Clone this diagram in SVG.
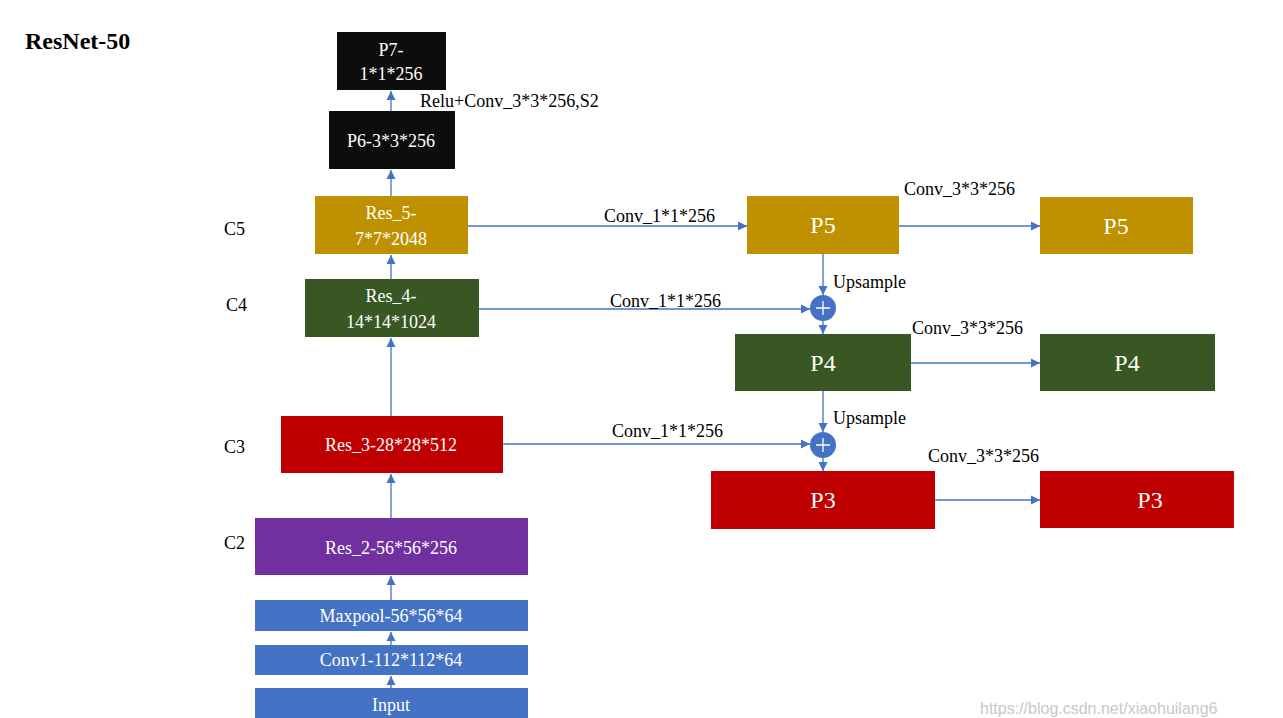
<svg xmlns="http://www.w3.org/2000/svg" width="1283" height="718" viewBox="0 0 1283 718">
<defs>
<marker id="a" viewBox="0 0 10 10" refX="10" refY="5" markerWidth="7" markerHeight="7" orient="auto"><path d="M0,0L10,5L0,10z" fill="#4472C4"/></marker>
<style>
text{font-family:"Liberation Serif",serif}
.w{fill:#fff;font-size:18px;text-anchor:middle}
.p{fill:#fff;font-size:24px;text-anchor:middle}
.l{fill:#000;font-size:18px}
.c{stroke:#4472C4;stroke-width:1.3;fill:none;marker-end:url(#a)}
</style>
</defs>
<rect width="1283" height="718" fill="#fff"/>
<text x="25" y="49" style="font-size:24px;font-weight:bold">ResNet-50</text>
<text class="l" x="224" y="235">C5</text>
<text class="l" x="226" y="311">C4</text>
<text class="l" x="224" y="453">C3</text>
<text class="l" x="224" y="549">C2</text>
<g id="connectors">
<path class="c" d="M391,688V676"/>
<path class="c" d="M391,645V632"/>
<path class="c" d="M391,600V576"/>
<path class="c" d="M391,518V474"/>
<path class="c" d="M391,416V338"/>
<path class="c" d="M391,279V255"/>
<path class="c" d="M391,196V170"/>
<path class="c" d="M391,111V91"/>
<path class="c" d="M468,226H747"/>
<path class="c" d="M479,309H810"/>
<path class="c" d="M503,444H810"/>
<path class="c" d="M899,226H1040"/>
<path class="c" d="M911,363H1040"/>
<path class="c" d="M935,500H1040"/>
<path class="c" d="M823,254V295"/>
<path class="c" d="M823,321V334"/>
<path class="c" d="M823,391V432"/>
<path class="c" d="M823,458V471"/>
</g>
<g id="labels">
<text class="l" x="420" y="107">Relu+Conv_3*3*256,S2</text>
<text class="l" x="604" y="222">Conv_1*1*256</text>
<text class="l" x="610" y="307">Conv_1*1*256</text>
<text class="l" x="612" y="437">Conv_1*1*256</text>
<text class="l" x="904" y="195">Conv_3*3*256</text>
<text class="l" x="912" y="334">Conv_3*3*256</text>
<text class="l" x="928" y="462">Conv_3*3*256</text>
<text class="l" x="833" y="288">Upsample</text>
<text class="l" x="833" y="424">Upsample</text>
</g>
<g id="P7"><rect x="337" y="32" width="109" height="58" fill="#0d0d0d"/><text class="w" x="391" y="56">P7-</text><text class="w" x="391" y="80">1*1*256</text></g>
<g id="P6"><rect x="329" y="111" width="126" height="58" fill="#0d0d0d"/><text class="w" x="391" y="147">P6-3*3*256</text></g>
<g id="Res5"><rect x="315" y="196" width="153" height="58" fill="#BF9000"/><text class="w" x="391" y="219">Res_5-</text><text class="w" x="391" y="245">7*7*2048</text></g>
<g id="Res4"><rect x="305" y="279" width="174" height="58" fill="#385723"/><text class="w" x="391" y="302">Res_4-</text><text class="w" x="391" y="328">14*14*1024</text></g>
<g id="Res3"><rect x="281" y="416" width="222" height="57" fill="#C00000"/><text class="w" x="391" y="451">Res_3-28*28*512</text></g>
<g id="Res2"><rect x="255" y="518" width="273" height="57" fill="#7030A0"/><text class="w" x="391" y="554">Res_2-56*56*256</text></g>
<g id="Maxpool"><rect x="255" y="600" width="273" height="31" fill="#4472C4"/><text class="w" x="391" y="622">Maxpool-56*56*64</text></g>
<g id="Conv1"><rect x="255" y="645" width="273" height="30" fill="#4472C4"/><text class="w" x="391" y="666">Conv1-112*112*64</text></g>
<g id="Input"><rect x="255" y="688" width="273" height="30" fill="#4472C4"/><text class="w" x="391" y="711">Input</text></g>
<g id="P5"><rect x="747" y="196" width="152" height="58" fill="#BF9000"/><text class="p" x="823" y="233">P5</text></g>
<g id="P5out"><rect x="1040" y="197" width="153" height="57" fill="#BF9000"/><text class="p" x="1116" y="234">P5</text></g>
<g id="P4"><rect x="735" y="334" width="176" height="57" fill="#385723"/><text class="p" x="823" y="371">P4</text></g>
<g id="P4out"><rect x="1040" y="334" width="175" height="57" fill="#385723"/><text class="p" x="1127" y="371">P4</text></g>
<g id="P3"><rect x="711" y="471" width="224" height="58" fill="#C00000"/><text class="p" x="823" y="508">P3</text></g>
<g id="P3out"><rect x="1040" y="471" width="194" height="57" fill="#C00000"/><text class="p" x="1150" y="508">P3</text></g>
<g id="add1"><circle cx="823" cy="308" r="13" fill="#4472C4"/><path d="M816,308H830M823,301V315" stroke="#fff" stroke-width="1.3"/></g>
<g id="add2"><circle cx="823" cy="445" r="13" fill="#4472C4"/><path d="M816,445H830M823,438V452" stroke="#fff" stroke-width="1.3"/></g>
<text x="980" y="714" style="font-family:'Liberation Sans',sans-serif;font-size:16px;fill:#c8c8c8">https://blog.csdn.net/xiaohuilang6</text>
</svg>
